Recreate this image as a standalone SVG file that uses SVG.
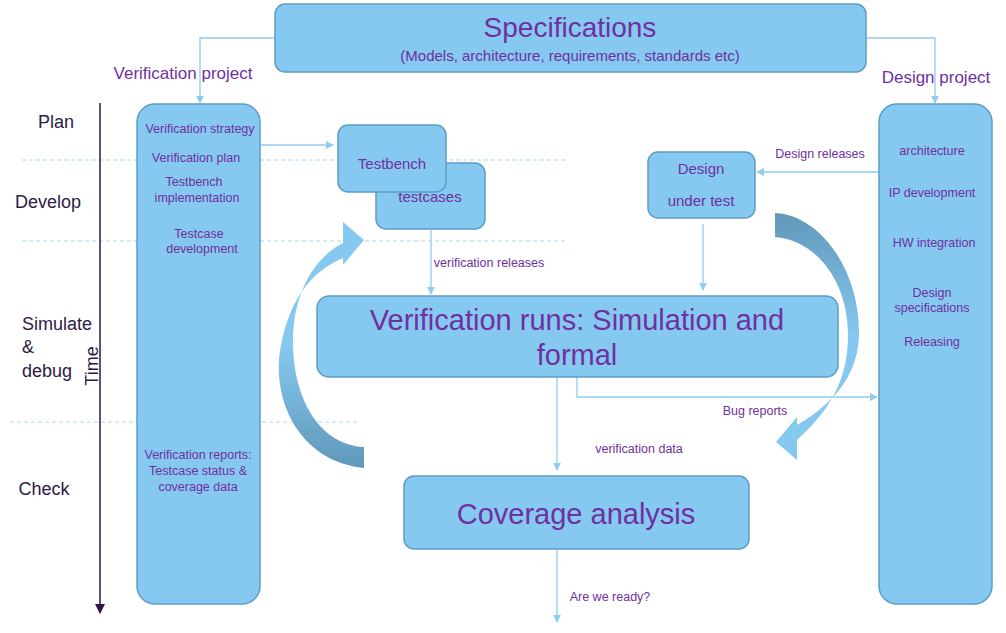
<svg xmlns="http://www.w3.org/2000/svg" width="1006" height="633" viewBox="0 0 1006 633">
<defs>
<style>
.box{fill:#85C8F0;stroke:#5E9CC6;stroke-width:1.5}
.t{font-family:"Liberation Sans",Arial,sans-serif;fill:#7030A0;text-anchor:middle}
.s{font-size:12.5px}
.l{font-family:"Liberation Sans",Arial,sans-serif;fill:#2E1A47;font-size:18px}
.c{stroke:#8FCDF0;stroke-width:1.3;fill:none}
.d{stroke:#A8D8F2;stroke-width:1;stroke-dasharray:4 3;fill:none}
</style>
<marker id="a" viewBox="0 0 10 10" refX="9" refY="5" markerWidth="8" markerHeight="8" markerUnits="userSpaceOnUse" orient="auto"><path d="M0,0L10,5L0,10z" fill="#8FCDF0"/></marker>
<marker id="k" viewBox="0 0 10 10" refX="9" refY="5" markerWidth="10" markerHeight="10" markerUnits="userSpaceOnUse" orient="auto"><path d="M0,0L10,5L0,10z" fill="#2E1547"/></marker>
<linearGradient id="gl" x1="0" y1="1" x2="0" y2="0"><stop offset="0" stop-color="#6098BA"/><stop offset="0.5" stop-color="#85C8F0"/><stop offset="1" stop-color="#85C8F0"/></linearGradient>
<linearGradient id="gr" x1="0" y1="0" x2="0" y2="1"><stop offset="0" stop-color="#6098BA"/><stop offset="0.5" stop-color="#85C8F0"/><stop offset="1" stop-color="#85C8F0"/></linearGradient>
</defs>
<g id="guides">
<path class="d" d="M22,160H567M22,241H567M10,422H360"/>
<line x1="100" y1="103" x2="100" y2="613" stroke="#2E1547" stroke-width="1.5" marker-end="url(#k)"/>
<text class="l" x="56" y="128" text-anchor="middle">Plan</text>
<text class="l" x="48" y="208" text-anchor="middle">Develop</text>
<text class="l" x="22" y="330">Simulate</text>
<text class="l" x="22" y="353">&amp;</text>
<text class="l" x="22" y="377">debug</text>
<text class="l" x="44" y="495" text-anchor="middle">Check</text>
<text class="l" x="0" y="0" font-size="15" transform="translate(98,366) rotate(-90)" text-anchor="middle">Time</text>
</g>
<g id="curved">
<path d="M364,468 C300,462 270,400 281,345 C290,300 310,272 343,258 L343,265 L364,240 L343,222 L343,243 C310,260 292,300 293,345 C294,400 320,445 364,447 Z" fill="url(#gl)"/>
<path d="M775,213 C820,215 860,270 859,335 C858,370 840,400 797,425 L797,417 L776,442 L797,460 L797,440 C830,410 848,380 848,335 C848,280 815,240 775,237 Z" fill="url(#gr)"/>
</g>
<g id="connectors">
<path class="c" d="M275,38H200V103" marker-end="url(#a)"/>
<path class="c" d="M866,38H935V103" marker-end="url(#a)"/>
<path class="c" d="M260,145H333" marker-end="url(#a)"/>
<path class="c" d="M879,172H757" marker-end="url(#a)"/>
<path class="c" d="M431,230V294" marker-end="url(#a)"/>
<path class="c" d="M703,224V290" marker-end="url(#a)"/>
<path class="c" d="M577,377V397H877" marker-end="url(#a)"/>
<path class="c" d="M557,377V470" marker-end="url(#a)"/>
<path class="c" d="M557,550V622" marker-end="url(#a)"/>
<text class="t s" x="820" y="158">Design releases</text>
<text class="t s" x="489" y="267">verification releases</text>
<text class="t s" x="755" y="415">Bug reports</text>
<text class="t s" x="639" y="453">verification data</text>
<text class="t s" x="610" y="601">Are we ready?</text>
</g>
<g id="spec">
<rect class="box" x="275" y="4" width="591" height="68" rx="10"/>
<text class="t" x="570" y="37" font-size="28">Specifications</text>
<text class="t" x="570" y="61" font-size="15">(Models, architecture, requirements, standards etc)</text>
</g>
<text class="t" x="183" y="79" font-size="17">Verification project</text>
<text class="t" x="936" y="83" font-size="17">Design project</text>
<g id="vcol">
<rect class="box" x="137" y="104" width="123" height="500" rx="18"/>
<text class="t s" x="200" y="133">Verification strategy</text>
<text class="t s" x="196" y="162">Verification plan</text>
<text class="t s" x="194" y="186">Testbench</text>
<text class="t s" x="197" y="202">implementation</text>
<text class="t s" x="199" y="238">Testcase</text>
<text class="t s" x="202" y="253">development</text>
<text class="t s" x="198" y="459">Verification reports:</text>
<text class="t s" x="198" y="475">Testcase status &amp;</text>
<text class="t s" x="198" y="491">coverage data</text>
</g>
<g id="dcol">
<rect class="box" x="879" y="104" width="113" height="500" rx="18"/>
<text class="t s" x="932" y="155">architecture</text>
<text class="t s" x="932" y="197">IP development</text>
<text class="t s" x="934" y="247">HW integration</text>
<text class="t s" x="932" y="297">Design</text>
<text class="t s" x="932" y="312">specifications</text>
<text class="t s" x="932" y="346">Releasing</text>
</g>
<g id="testcases">
<rect class="box" x="376" y="163" width="109" height="66" rx="10"/>
<text class="t" x="430" y="202" font-size="15">testcases</text>
</g>
<g id="testbench">
<rect class="box" x="338" y="125" width="108" height="67" rx="10"/>
<text class="t" x="392" y="169" font-size="15">Testbench</text>
</g>
<g id="dut">
<rect class="box" x="648" y="152" width="107" height="66" rx="10"/>
<text class="t" x="701" y="174" font-size="15">Design</text>
<text class="t" x="701" y="206" font-size="15">under test</text>
</g>
<g id="runs">
<rect class="box" x="317" y="296" width="521" height="81" rx="12"/>
<text class="t" x="577" y="330" font-size="29">Verification runs: Simulation and</text>
<text class="t" x="577" y="365" font-size="29">formal</text>
</g>
<g id="coverage">
<rect class="box" x="404" y="476" width="345" height="73" rx="10"/>
<text class="t" x="576" y="524" font-size="29">Coverage analysis</text>
</g>
</svg>
